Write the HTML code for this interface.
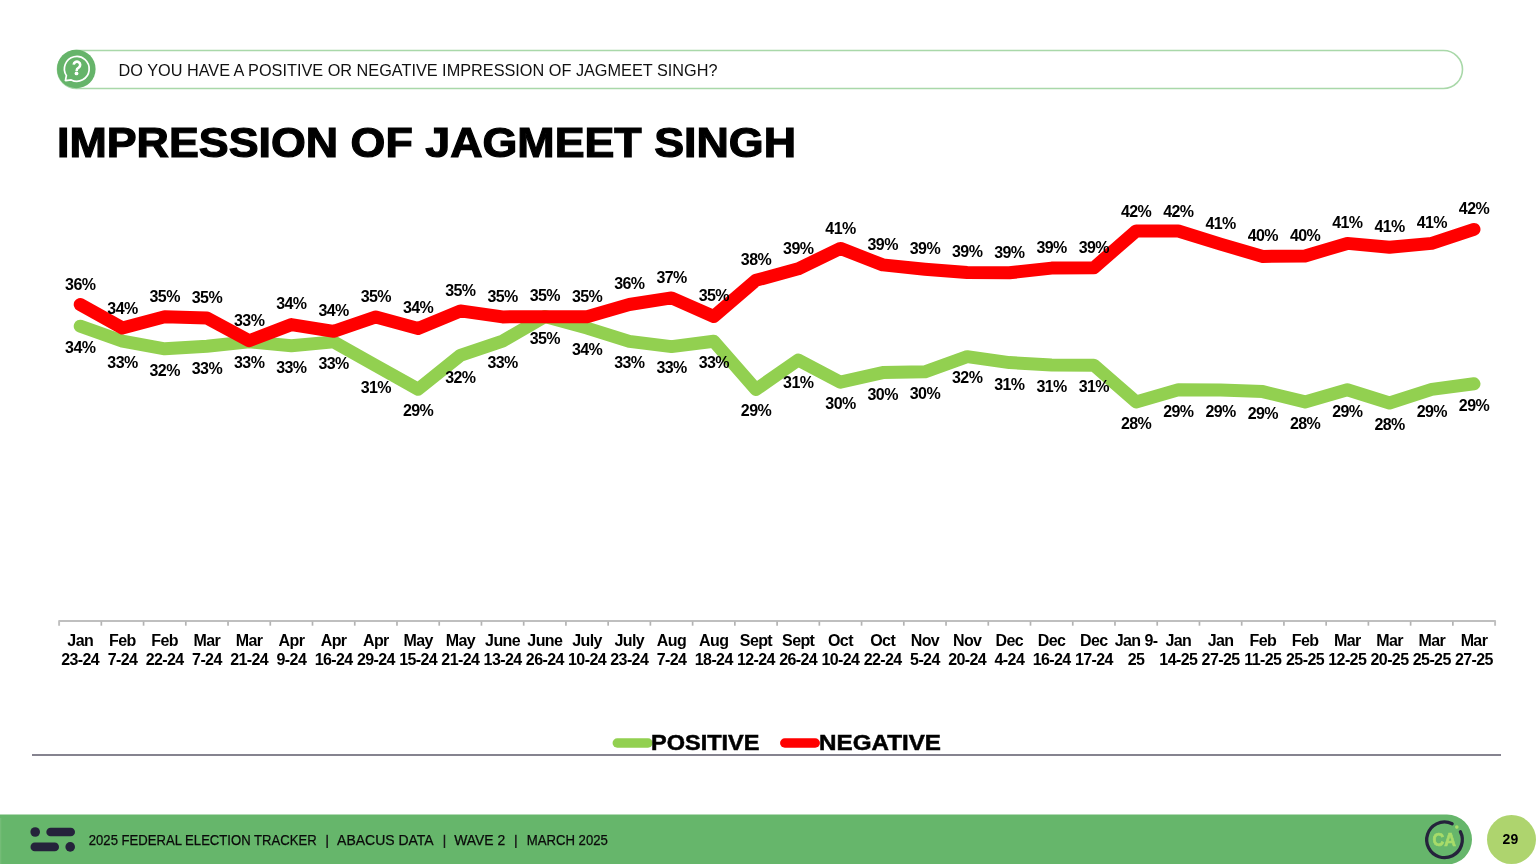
<!DOCTYPE html>
<html><head><meta charset="utf-8"><style>
html,body{margin:0;padding:0;background:#fff;}
body{width:1536px;height:864px;position:relative;overflow:hidden;font-family:"Liberation Sans",sans-serif;}
svg{position:absolute;left:0;top:0;will-change:transform;}
</style></head><body>
<svg width="1536" height="864" viewBox="0 0 1536 864">
<!-- question bar -->
<rect x="57.5" y="50.5" width="1405" height="38" rx="19" ry="19" fill="none" stroke="#A9D8A9" stroke-width="1.6"/>
<circle cx="76.3" cy="69" r="19.3" fill="#66B46A"/>
<path d="M66.4,75.6 A12.4,12.4 0 1 1 71.2,79.9 L65.6,80.6 Q65.2,80.4 65.5,80 Z" fill="none" stroke="#fff" stroke-width="1.7" stroke-linejoin="round"/>
<path d="M73.7,64.6 A3.25,3.25 0 1 1 78.7,67.6 Q76.6,68.6 76.6,70.9" fill="none" stroke="#fff" stroke-width="2.6"/>
<circle cx="76.5" cy="73.4" r="1.9" fill="#fff"/>
<text x="118.5" y="76" font-family="Liberation Sans" font-size="16.6" fill="#111" textLength="599" lengthAdjust="spacingAndGlyphs">DO YOU HAVE A POSITIVE OR NEGATIVE IMPRESSION OF JAGMEET SINGH?</text>
<text x="57" y="156.7" font-family="Liberation Sans" font-weight="bold" font-size="42.5" fill="#000" stroke="#000" stroke-width="1.2" textLength="739" lengthAdjust="spacingAndGlyphs">IMPRESSION OF JAGMEET SINGH</text>
<path d="M59.1,625.7 V621 H1495.1 V625.7" fill="none" stroke="#BFBFBF" stroke-width="1.9" stroke-linejoin="round"/><line x1="101.34" y1="621.5" x2="101.34" y2="625.7" stroke="#B3B3B3" stroke-width="1.7"/><line x1="143.57" y1="621.5" x2="143.57" y2="625.7" stroke="#B3B3B3" stroke-width="1.7"/><line x1="185.81" y1="621.5" x2="185.81" y2="625.7" stroke="#B3B3B3" stroke-width="1.7"/><line x1="228.04" y1="621.5" x2="228.04" y2="625.7" stroke="#B3B3B3" stroke-width="1.7"/><line x1="270.28" y1="621.5" x2="270.28" y2="625.7" stroke="#B3B3B3" stroke-width="1.7"/><line x1="312.51" y1="621.5" x2="312.51" y2="625.7" stroke="#B3B3B3" stroke-width="1.7"/><line x1="354.75" y1="621.5" x2="354.75" y2="625.7" stroke="#B3B3B3" stroke-width="1.7"/><line x1="396.98" y1="621.5" x2="396.98" y2="625.7" stroke="#B3B3B3" stroke-width="1.7"/><line x1="439.22" y1="621.5" x2="439.22" y2="625.7" stroke="#B3B3B3" stroke-width="1.7"/><line x1="481.45" y1="621.5" x2="481.45" y2="625.7" stroke="#B3B3B3" stroke-width="1.7"/><line x1="523.69" y1="621.5" x2="523.69" y2="625.7" stroke="#B3B3B3" stroke-width="1.7"/><line x1="565.92" y1="621.5" x2="565.92" y2="625.7" stroke="#B3B3B3" stroke-width="1.7"/><line x1="608.16" y1="621.5" x2="608.16" y2="625.7" stroke="#B3B3B3" stroke-width="1.7"/><line x1="650.39" y1="621.5" x2="650.39" y2="625.7" stroke="#B3B3B3" stroke-width="1.7"/><line x1="692.63" y1="621.5" x2="692.63" y2="625.7" stroke="#B3B3B3" stroke-width="1.7"/><line x1="734.86" y1="621.5" x2="734.86" y2="625.7" stroke="#B3B3B3" stroke-width="1.7"/><line x1="777.10" y1="621.5" x2="777.10" y2="625.7" stroke="#B3B3B3" stroke-width="1.7"/><line x1="819.34" y1="621.5" x2="819.34" y2="625.7" stroke="#B3B3B3" stroke-width="1.7"/><line x1="861.57" y1="621.5" x2="861.57" y2="625.7" stroke="#B3B3B3" stroke-width="1.7"/><line x1="903.81" y1="621.5" x2="903.81" y2="625.7" stroke="#B3B3B3" stroke-width="1.7"/><line x1="946.04" y1="621.5" x2="946.04" y2="625.7" stroke="#B3B3B3" stroke-width="1.7"/><line x1="988.28" y1="621.5" x2="988.28" y2="625.7" stroke="#B3B3B3" stroke-width="1.7"/><line x1="1030.51" y1="621.5" x2="1030.51" y2="625.7" stroke="#B3B3B3" stroke-width="1.7"/><line x1="1072.75" y1="621.5" x2="1072.75" y2="625.7" stroke="#B3B3B3" stroke-width="1.7"/><line x1="1114.98" y1="621.5" x2="1114.98" y2="625.7" stroke="#B3B3B3" stroke-width="1.7"/><line x1="1157.22" y1="621.5" x2="1157.22" y2="625.7" stroke="#B3B3B3" stroke-width="1.7"/><line x1="1199.45" y1="621.5" x2="1199.45" y2="625.7" stroke="#B3B3B3" stroke-width="1.7"/><line x1="1241.69" y1="621.5" x2="1241.69" y2="625.7" stroke="#B3B3B3" stroke-width="1.7"/><line x1="1283.92" y1="621.5" x2="1283.92" y2="625.7" stroke="#B3B3B3" stroke-width="1.7"/><line x1="1326.16" y1="621.5" x2="1326.16" y2="625.7" stroke="#B3B3B3" stroke-width="1.7"/><line x1="1368.39" y1="621.5" x2="1368.39" y2="625.7" stroke="#B3B3B3" stroke-width="1.7"/><line x1="1410.63" y1="621.5" x2="1410.63" y2="625.7" stroke="#B3B3B3" stroke-width="1.7"/><line x1="1452.86" y1="621.5" x2="1452.86" y2="625.7" stroke="#B3B3B3" stroke-width="1.7"/><polyline points="80.22,326.20 122.45,341.10 164.69,348.85 206.92,346.25 249.16,341.80 291.39,345.70 333.63,341.90 375.86,365.60 418.10,389.25 460.34,355.40 502.57,341.10 544.81,316.60 587.04,328.10 629.28,341.40 671.51,346.60 713.75,341.20 755.98,389.50 798.22,359.96 840.45,382.20 882.69,372.60 924.92,371.80 967.16,356.66 1009.39,362.60 1051.63,365.00 1093.86,365.20 1136.10,401.90 1178.34,389.80 1220.57,390.00 1262.81,391.60 1305.04,401.90 1347.28,389.70 1389.51,402.95 1431.75,389.40 1473.98,383.80" fill="none" stroke="#92D050" stroke-width="13" stroke-linejoin="round" stroke-linecap="round"/><polyline points="80.22,304.45 122.45,328.00 164.69,316.70 206.92,318.10 249.16,340.74 291.39,324.60 333.63,331.30 375.86,316.90 418.10,328.60 460.34,310.90 502.57,316.90 544.81,316.70 587.04,316.80 629.28,304.50 671.51,297.90 713.75,316.44 755.98,280.30 798.22,268.80 840.45,248.40 882.69,264.90 924.92,269.20 967.16,272.60 1009.39,272.80 1051.63,268.10 1093.86,267.80 1136.10,231.00 1178.34,231.00 1220.57,244.10 1262.81,256.40 1305.04,255.90 1347.28,243.40 1389.51,247.30 1431.75,243.40 1473.98,229.40" fill="none" stroke="#FF0000" stroke-width="13" stroke-linejoin="round" stroke-linecap="round"/>
<g font-family="Liberation Sans" font-weight="bold" font-size="16" letter-spacing="-0.6" text-anchor="middle" fill="#000">
<text x="80.22" y="289.95">36%</text><text x="122.45" y="313.50">34%</text><text x="164.69" y="301.60">35%</text><text x="206.92" y="303.10">35%</text><text x="249.16" y="325.60">33%</text><text x="291.39" y="309.30">34%</text><text x="333.63" y="316.00">34%</text><text x="375.86" y="301.60">35%</text><text x="418.10" y="313.30">34%</text><text x="460.34" y="295.60">35%</text><text x="502.57" y="301.60">35%</text><text x="544.81" y="301.40">35%</text><text x="587.04" y="301.50">35%</text><text x="629.28" y="289.20">36%</text><text x="671.51" y="282.60">37%</text><text x="713.75" y="300.90">35%</text><text x="755.98" y="265.00">38%</text><text x="798.22" y="253.50">39%</text><text x="840.45" y="234.10">41%</text><text x="882.69" y="249.60">39%</text><text x="924.92" y="253.90">39%</text><text x="967.16" y="257.30">39%</text><text x="1009.39" y="257.50">39%</text><text x="1051.63" y="252.80">39%</text><text x="1093.86" y="252.50">39%</text><text x="1136.10" y="216.70">42%</text><text x="1178.34" y="216.70">42%</text><text x="1220.57" y="228.80">41%</text><text x="1262.81" y="241.10">40%</text><text x="1305.04" y="240.60">40%</text><text x="1347.28" y="228.10">41%</text><text x="1389.51" y="232.00">41%</text><text x="1431.75" y="228.10">41%</text><text x="1473.98" y="214.10">42%</text><text x="80.22" y="353.20">34%</text><text x="122.45" y="368.20">33%</text><text x="164.69" y="376.30">32%</text><text x="206.92" y="373.50">33%</text><text x="249.16" y="368.20">33%</text><text x="291.39" y="372.80">33%</text><text x="333.63" y="369.00">33%</text><text x="375.86" y="392.70">31%</text><text x="418.10" y="415.80">29%</text><text x="460.34" y="382.50">32%</text><text x="502.57" y="368.20">33%</text><text x="544.81" y="343.70">35%</text><text x="587.04" y="355.20">34%</text><text x="629.28" y="368.10">33%</text><text x="671.51" y="373.30">33%</text><text x="713.75" y="368.30">33%</text><text x="755.98" y="416.00">29%</text><text x="798.22" y="387.80">31%</text><text x="840.45" y="409.30">30%</text><text x="882.69" y="399.70">30%</text><text x="924.92" y="398.90">30%</text><text x="967.16" y="383.40">32%</text><text x="1009.39" y="389.70">31%</text><text x="1051.63" y="392.10">31%</text><text x="1093.86" y="392.30">31%</text><text x="1136.10" y="428.70">28%</text><text x="1178.34" y="416.90">29%</text><text x="1220.57" y="417.10">29%</text><text x="1262.81" y="418.70">29%</text><text x="1305.04" y="428.80">28%</text><text x="1347.28" y="416.50">29%</text><text x="1389.51" y="429.80">28%</text><text x="1431.75" y="416.50">29%</text><text x="1473.98" y="410.90">29%</text>
</g>
<g font-family="Liberation Sans" font-weight="bold" font-size="16" letter-spacing="-0.6" text-anchor="middle" fill="#000">
<text x="80.22" y="646.3">Jan</text><text x="80.22" y="664.7">23-24</text><text x="122.45" y="646.3">Feb</text><text x="122.45" y="664.7">7-24</text><text x="164.69" y="646.3">Feb</text><text x="164.69" y="664.7">22-24</text><text x="206.92" y="646.3">Mar</text><text x="206.92" y="664.7">7-24</text><text x="249.16" y="646.3">Mar</text><text x="249.16" y="664.7">21-24</text><text x="291.39" y="646.3">Apr</text><text x="291.39" y="664.7">9-24</text><text x="333.63" y="646.3">Apr</text><text x="333.63" y="664.7">16-24</text><text x="375.86" y="646.3">Apr</text><text x="375.86" y="664.7">29-24</text><text x="418.10" y="646.3">May</text><text x="418.10" y="664.7">15-24</text><text x="460.34" y="646.3">May</text><text x="460.34" y="664.7">21-24</text><text x="502.57" y="646.3">June</text><text x="502.57" y="664.7">13-24</text><text x="544.81" y="646.3">June</text><text x="544.81" y="664.7">26-24</text><text x="587.04" y="646.3">July</text><text x="587.04" y="664.7">10-24</text><text x="629.28" y="646.3">July</text><text x="629.28" y="664.7">23-24</text><text x="671.51" y="646.3">Aug</text><text x="671.51" y="664.7">7-24</text><text x="713.75" y="646.3">Aug</text><text x="713.75" y="664.7">18-24</text><text x="755.98" y="646.3">Sept</text><text x="755.98" y="664.7">12-24</text><text x="798.22" y="646.3">Sept</text><text x="798.22" y="664.7">26-24</text><text x="840.45" y="646.3">Oct</text><text x="840.45" y="664.7">10-24</text><text x="882.69" y="646.3">Oct</text><text x="882.69" y="664.7">22-24</text><text x="924.92" y="646.3">Nov</text><text x="924.92" y="664.7">5-24</text><text x="967.16" y="646.3">Nov</text><text x="967.16" y="664.7">20-24</text><text x="1009.39" y="646.3">Dec</text><text x="1009.39" y="664.7">4-24</text><text x="1051.63" y="646.3">Dec</text><text x="1051.63" y="664.7">16-24</text><text x="1093.86" y="646.3">Dec</text><text x="1093.86" y="664.7">17-24</text><text x="1136.10" y="646.3">Jan 9-</text><text x="1136.10" y="664.7">25</text><text x="1178.34" y="646.3">Jan</text><text x="1178.34" y="664.7">14-25</text><text x="1220.57" y="646.3">Jan</text><text x="1220.57" y="664.7">27-25</text><text x="1262.81" y="646.3">Feb</text><text x="1262.81" y="664.7">11-25</text><text x="1305.04" y="646.3">Feb</text><text x="1305.04" y="664.7">25-25</text><text x="1347.28" y="646.3">Mar</text><text x="1347.28" y="664.7">12-25</text><text x="1389.51" y="646.3">Mar</text><text x="1389.51" y="664.7">20-25</text><text x="1431.75" y="646.3">Mar</text><text x="1431.75" y="664.7">25-25</text><text x="1473.98" y="646.3">Mar</text><text x="1473.98" y="664.7">27-25</text>
</g>
<!-- legend -->
<line x1="617.3" y1="743" x2="648" y2="743" stroke="#92D050" stroke-width="9.5" stroke-linecap="round"/>
<text x="651" y="750" font-family="Liberation Sans" font-weight="bold" font-size="21.5" fill="#000" stroke="#000" stroke-width="0.5" textLength="108.5" lengthAdjust="spacingAndGlyphs">POSITIVE</text>
<line x1="784.8" y1="743" x2="815.2" y2="743" stroke="#FF0000" stroke-width="9.5" stroke-linecap="round"/>
<text x="819" y="750" font-family="Liberation Sans" font-weight="bold" font-size="21.5" fill="#000" stroke="#000" stroke-width="0.5" textLength="122" lengthAdjust="spacingAndGlyphs">NEGATIVE</text>
<rect x="32" y="754" width="1469" height="2" fill="#85838F"/>
<!-- footer -->
<path d="M0,814.5 H1447 A25,25 0 0 1 1447,864.5 H0 Z" fill="#66B66B"/>
<rect x="0" y="818" width="1.3" height="46" fill="#74BC77"/>
<g fill="#25233B">
<circle cx="35.2" cy="832" r="4.8"/>
<rect x="46.3" y="827.7" width="28.7" height="8.6" rx="4.3"/>
<rect x="30.5" y="842.6" width="28.5" height="8.6" rx="4.3"/>
<circle cx="70.2" cy="846.9" r="4.8"/>
</g>
<g font-family="Liberation Sans" font-size="14" fill="#0a0a0a" stroke="#0a0a0a" stroke-width="0.25">
<text x="88.8" y="845.3" textLength="227.8" lengthAdjust="spacingAndGlyphs">2025 FEDERAL ELECTION TRACKER</text>
<text x="337.1" y="845.3" textLength="96.6" lengthAdjust="spacingAndGlyphs">ABACUS DATA</text>
<text x="454.2" y="845.3" textLength="51" lengthAdjust="spacingAndGlyphs">WAVE 2</text>
<text x="526.7" y="845.3" textLength="81.2" lengthAdjust="spacingAndGlyphs">MARCH 2025</text>
</g>
<g fill="#1a1a1a">
<rect x="326.4" y="834.8" width="1.5" height="13.2"/>
<rect x="443.7" y="834.8" width="1.5" height="13.2"/>
<rect x="515.1" y="834.8" width="1.5" height="13.2"/>
</g>
<circle cx="1444.5" cy="839.8" r="17.8" fill="none" stroke="#25233B" stroke-width="3.3" stroke-linecap="round" stroke-dasharray="99.4 12.44" transform="rotate(-26.7 1444.5 839.8)"/>
<circle cx="1456.8" cy="827.1" r="1.8" fill="#A8DC6A"/>
<text x="1432.6" y="846.4" font-family="Liberation Sans" font-weight="bold" font-size="19" fill="#A8DC6A" stroke="#A8DC6A" stroke-width="0.7" textLength="23.4" lengthAdjust="spacingAndGlyphs">CA</text>
<circle cx="1511.5" cy="839.5" r="24.5" fill="#AED46E"/>
<text x="1510.4" y="843.8" font-family="Liberation Sans" font-weight="bold" font-size="14" fill="#000" text-anchor="middle">29</text>
</svg>
</body></html>
